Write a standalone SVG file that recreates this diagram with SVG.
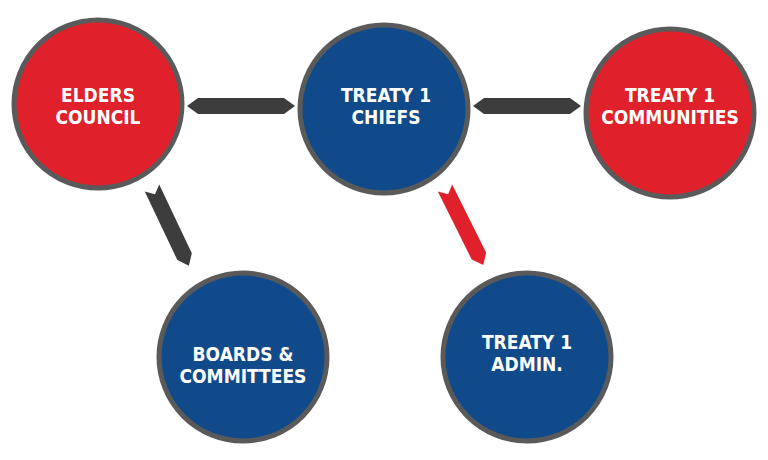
<svg xmlns="http://www.w3.org/2000/svg" width="768" height="460" viewBox="0 0 768 460">
<style>
.c{stroke:#5a5a5a;stroke-width:5}
.r{fill:#e0202a}.b{fill:#114a8a}
text{font-family:"Liberation Sans Narrow","DejaVu Sans Condensed","Liberation Sans",sans-serif;font-weight:bold;font-size:19px;fill:#fff;text-anchor:middle}
.a{fill:#3d3d3d}
</style>
<rect width="768" height="460" fill="#fff"/>
<g id="connectors">
<polygon class="a" points="187,106 198,98 284,98 295,106 284,114 198,114"/>
<polygon class="a" points="473,106 484,98 570,98 581,106 570,114 484,114"/>
<polygon class="a" transform="translate(152,188) rotate(64.6)" points="0,-8 76,-8 86,0 76,8 0,8 7,0"/>
<polygon fill="#e0202a" transform="translate(445,188) rotate(63.5)" points="0,-8 76,-8 86,0 76,8 0,8 7,0"/>
</g>
<g id="elders"><circle class="c r" cx="98" cy="104" r="84"/><text x="98" y="102">ELDERS</text><text x="98" y="124">COUNCIL</text></g>
<g id="chiefs"><circle class="c b" cx="384" cy="109" r="84"/><text x="386" y="102">TREATY 1</text><text x="386" y="124">CHIEFS</text></g>
<g id="communities"><circle class="c r" cx="670" cy="113" r="84"/><text x="670" y="102">TREATY 1</text><text x="670" y="124">COMMUNITIES</text></g>
<g id="boards"><circle class="c b" cx="243" cy="357" r="84"/><text x="243" y="361">BOARDS &amp;</text><text x="243" y="383">COMMITTEES</text></g>
<g id="admin"><circle class="c b" cx="527" cy="357" r="84"/><text x="527" y="349">TREATY 1</text><text x="527" y="371">ADMIN.</text></g>
</svg>
